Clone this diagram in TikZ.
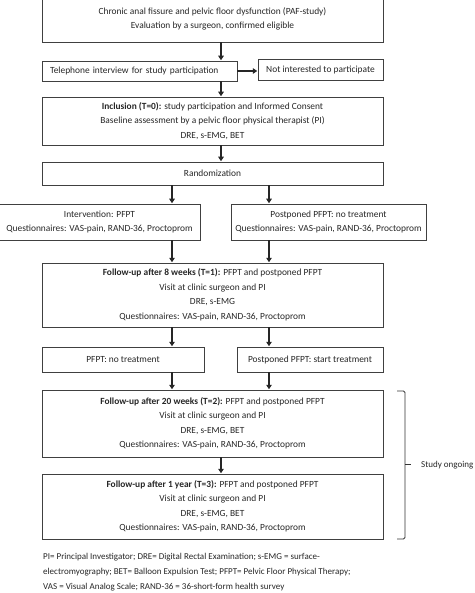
\documentclass[tikz,border=0pt]{standalone}
\usepackage{fontspec}
\setmainfont{Carlito}
\usetikzlibrary{arrows.meta}
\begin{document}
\begin{tikzpicture}[x=1pt,y=-1pt,
  box/.style={draw=black!75, line width=0.9pt, text=black!85, inner sep=0pt, align=center,
     font=\fontsize{9.4}{14.5}\selectfont},
  arr/.style={line width=1.6pt, black!85, -{Triangle[length=4.5pt,width=5.5pt]}, shorten >=0.3pt},
  note/.style={text=black!85, align=left, anchor=north west, inner sep=0pt,
     font=\fontsize{9}{15}\selectfont}]
\useasboundingbox (0,0) rectangle (474,593);
\coordinate (cx) at (221,0);
\coordinate (lx) at (172,0);
\coordinate (rx) at (269,0);
\node[box, minimum width=341pt, minimum height=46pt] (top) at (212.5,19)
  {Chronic anal fissure and pelvic floor dysfunction (PAF-study)\\Evaluation by a surgeon, confirmed eligible};
\node[box, minimum width=195pt, minimum height=20pt, text width=179pt, align=left] (tel) at (139.5,71)
  {Telephone interview for study participation};
\node[box, minimum width=125pt, minimum height=21pt] (noint) at (320.5,69.5)
  {Not interested to participate};
\node[box, minimum width=341pt, minimum height=48pt] (incl) at (212.5,121)
  {\textbf{Inclusion (T=0):} study participation and Informed Consent\\Baseline assessment by a pelvic floor physical therapist (PI)\\DRE, s-EMG, BET};
\node[box, minimum width=341pt, minimum height=23pt] (rand) at (212.5,173.5)
  {Randomization};
\node[box, minimum width=201pt, minimum height=36pt] (interv) at (99.5,222)
  {Intervention: PFPT\\Questionnaires: VAS-pain, RAND-36, Proctoprom};
\node[box, minimum width=195pt, minimum height=36pt] (postp) at (328.5,222)
  {Postponed PFPT: no treatment\\Questionnaires: VAS-pain, RAND-36, Proctoprom};
\node[box, minimum width=341pt, minimum height=64pt] (fu1) at (212.5,295)
  {\textbf{Follow-up after 8 weeks (T=1):} PFPT and postponed PFPT\\Visit at clinic surgeon and PI\\DRE, s-EMG\\Questionnaires: VAS-pain, RAND-36, Proctoprom};
\node[box, minimum width=162pt, minimum height=25pt] (pnt) at (123,359.5)
  {PFPT: no treatment};
\node[box, minimum width=146pt, minimum height=25pt] (pst) at (310,359.5)
  {Postponed PFPT: start treatment};
\node[box, minimum width=341pt, minimum height=67pt] (fu2) at (212.5,423.5)
  {\textbf{Follow-up after 20 weeks (T=2):} PFPT and postponed PFPT\\Visit at clinic surgeon and PI\\DRE, s-EMG, BET\\Questionnaires: VAS-pain, RAND-36, Proctoprom};
\node[box, minimum width=341pt, minimum height=65pt] (fu3) at (212.5,506.5)
  {\textbf{Follow-up after 1 year (T=3):} PFPT and postponed PFPT\\Visit at clinic surgeon and PI\\DRE, s-EMG, BET\\Questionnaires: VAS-pain, RAND-36, Proctoprom};
\draw[arr] (top.south -| cx) -- (tel.north -| cx);
\draw[arr] (tel.east) -- (tel.east -| noint.west);
\draw[arr] (tel.south -| cx) -- (incl.north -| cx);
\draw[arr] (incl.south -| cx) -- (rand.north -| cx);
\draw[arr] (rand.south -| lx) -- (interv.north -| lx);
\draw[arr] (rand.south -| rx) -- (postp.north -| rx);
\draw[arr] (interv.south -| lx) -- (fu1.north -| lx);
\draw[arr] (postp.south -| rx) -- (fu1.north -| rx);
\draw[arr] (fu1.south -| lx) -- (pnt.north -| lx);
\draw[arr] (fu1.south -| rx) -- (pst.north -| rx);
\draw[arr] (pnt.south -| lx) -- (fu2.north -| lx);
\draw[arr] (pst.south -| rx) -- (fu2.north -| rx);
\draw[arr] (fu2.south -| cx) -- (fu3.north -| cx);
\draw[black!80, line width=0.8pt, rounded corners=1.5pt]
  (397,391) -- (405,391) -- (405,539) -- (397,539);
\draw[black!80, line width=1pt] (405,464.5) -- (411,464.5);
\node[anchor=west, inner sep=0pt, text=black!85, font=\fontsize{9}{10}\selectfont] (ongo) at (421,465) {Study ongoing};
\node[note] (foot) at (43,553)
  {PI= Principal Investigator; DRE= Digital Rectal Examination; s-EMG = surface-\\electromyography; BET= Balloon Expulsion Test; PFPT= Pelvic Floor Physical Therapy;\\VAS = Visual Analog Scale; RAND-36 = 36-short-form health survey};
\end{tikzpicture}
\end{document}
